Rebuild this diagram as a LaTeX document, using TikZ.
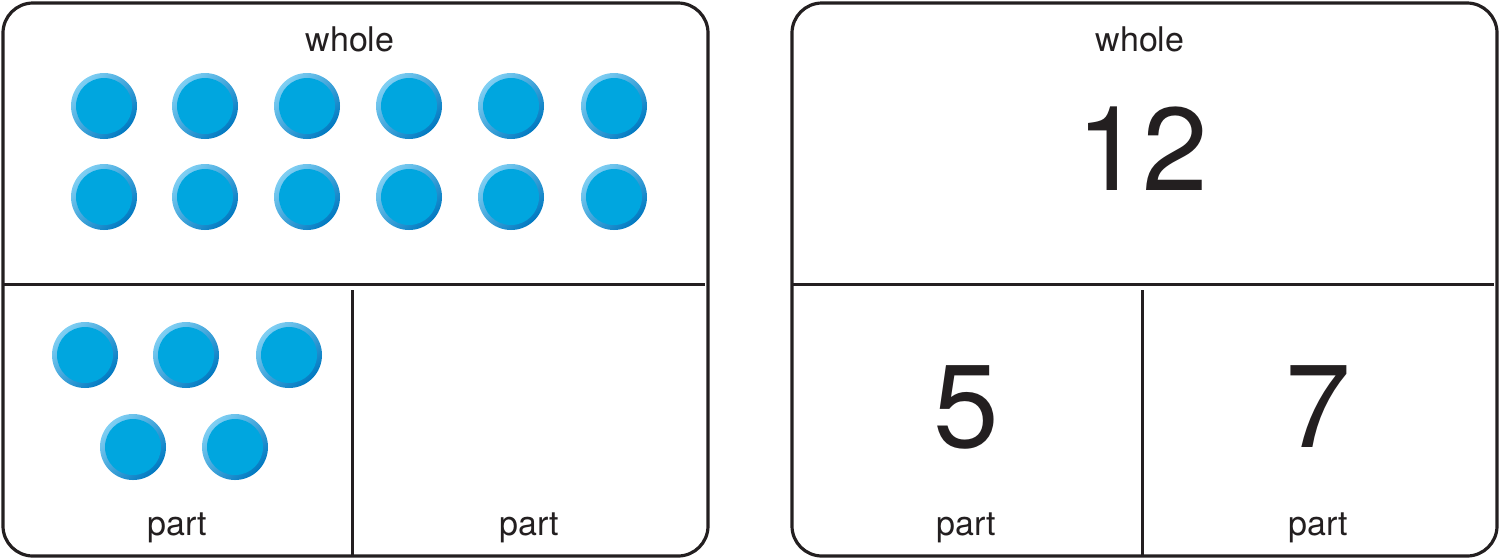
\documentclass[tikz,border=0pt]{standalone}
\usepackage{fontspec}
\setmainfont{TeX Gyre Heros}
\definecolor{chipdark}{HTML}{0079C1}
\definecolor{chiplight}{HTML}{80CFF3}
\definecolor{chipface}{HTML}{00A6DF}
\definecolor{inkline}{HTML}{231F20}

\begin{document}
\begin{tikzpicture}[x=0.5pt,y=-0.5pt,
    card/.style={draw=inkline,line width=1.6pt,rounded corners=15pt},
    divider/.style={draw=inkline,line width=1.5pt},
    chip/.style={circle,minimum size=33pt,inner sep=0pt,
        left color=chiplight,right color=chipdark,shading angle=45,
        path picture={\fill[chipface] (path picture bounding box.center) circle (14pt);}},
    tag/.style={anchor=base,text=inkline,font=\fontsize{17}{20}\selectfont},
    numeral/.style={anchor=base,text=inkline,font=\fontsize{59}{70}\selectfont}
]
    \useasboundingbox (0,0) rectangle (1500,559);

    % left card: counters
    \draw[card] (3,3) rectangle (708,556);
    \draw[divider] (3,284) -- (705,284);
    \draw[divider] (352,290) -- (352,557);
    \node[tag] (wholeL) at (350,51) {whole};
    \node[tag] (partLa) at (177,535) {part};
    \node[tag] (partLb) at (529,535) {part};

    \foreach \x [count=\i] in {104,205,307,409,511,614} {
        \node[chip] (top\i) at (\x,106) {};
        \node[chip] (bot\i) at (\x,197) {};
    }
    \foreach \x [count=\i] in {85,186,289}
        \node[chip] (partA\i) at (\x,355) {};
    \foreach \x [count=\i] in {133,235}
        \node[chip] (partB\i) at (\x,447) {};

    % right card: numbers
    \draw[card] (792,3) rectangle (1497,556);
    \draw[divider] (792,284) -- (1494,284);
    \draw[divider] (1142,290) -- (1142,557);
    \node[tag] (wholeR) at (1140,51) {whole};
    \node[tag] (partRa) at (966,535) {part};
    \node[tag] (partRb) at (1318,535) {part};
    \node[numeral] (total) at (1142,190) {12};
    \node[numeral] (five) at (966,447) {5};
    \node[numeral] (seven) at (1318,447) {7};

\end{tikzpicture}
\end{document}
